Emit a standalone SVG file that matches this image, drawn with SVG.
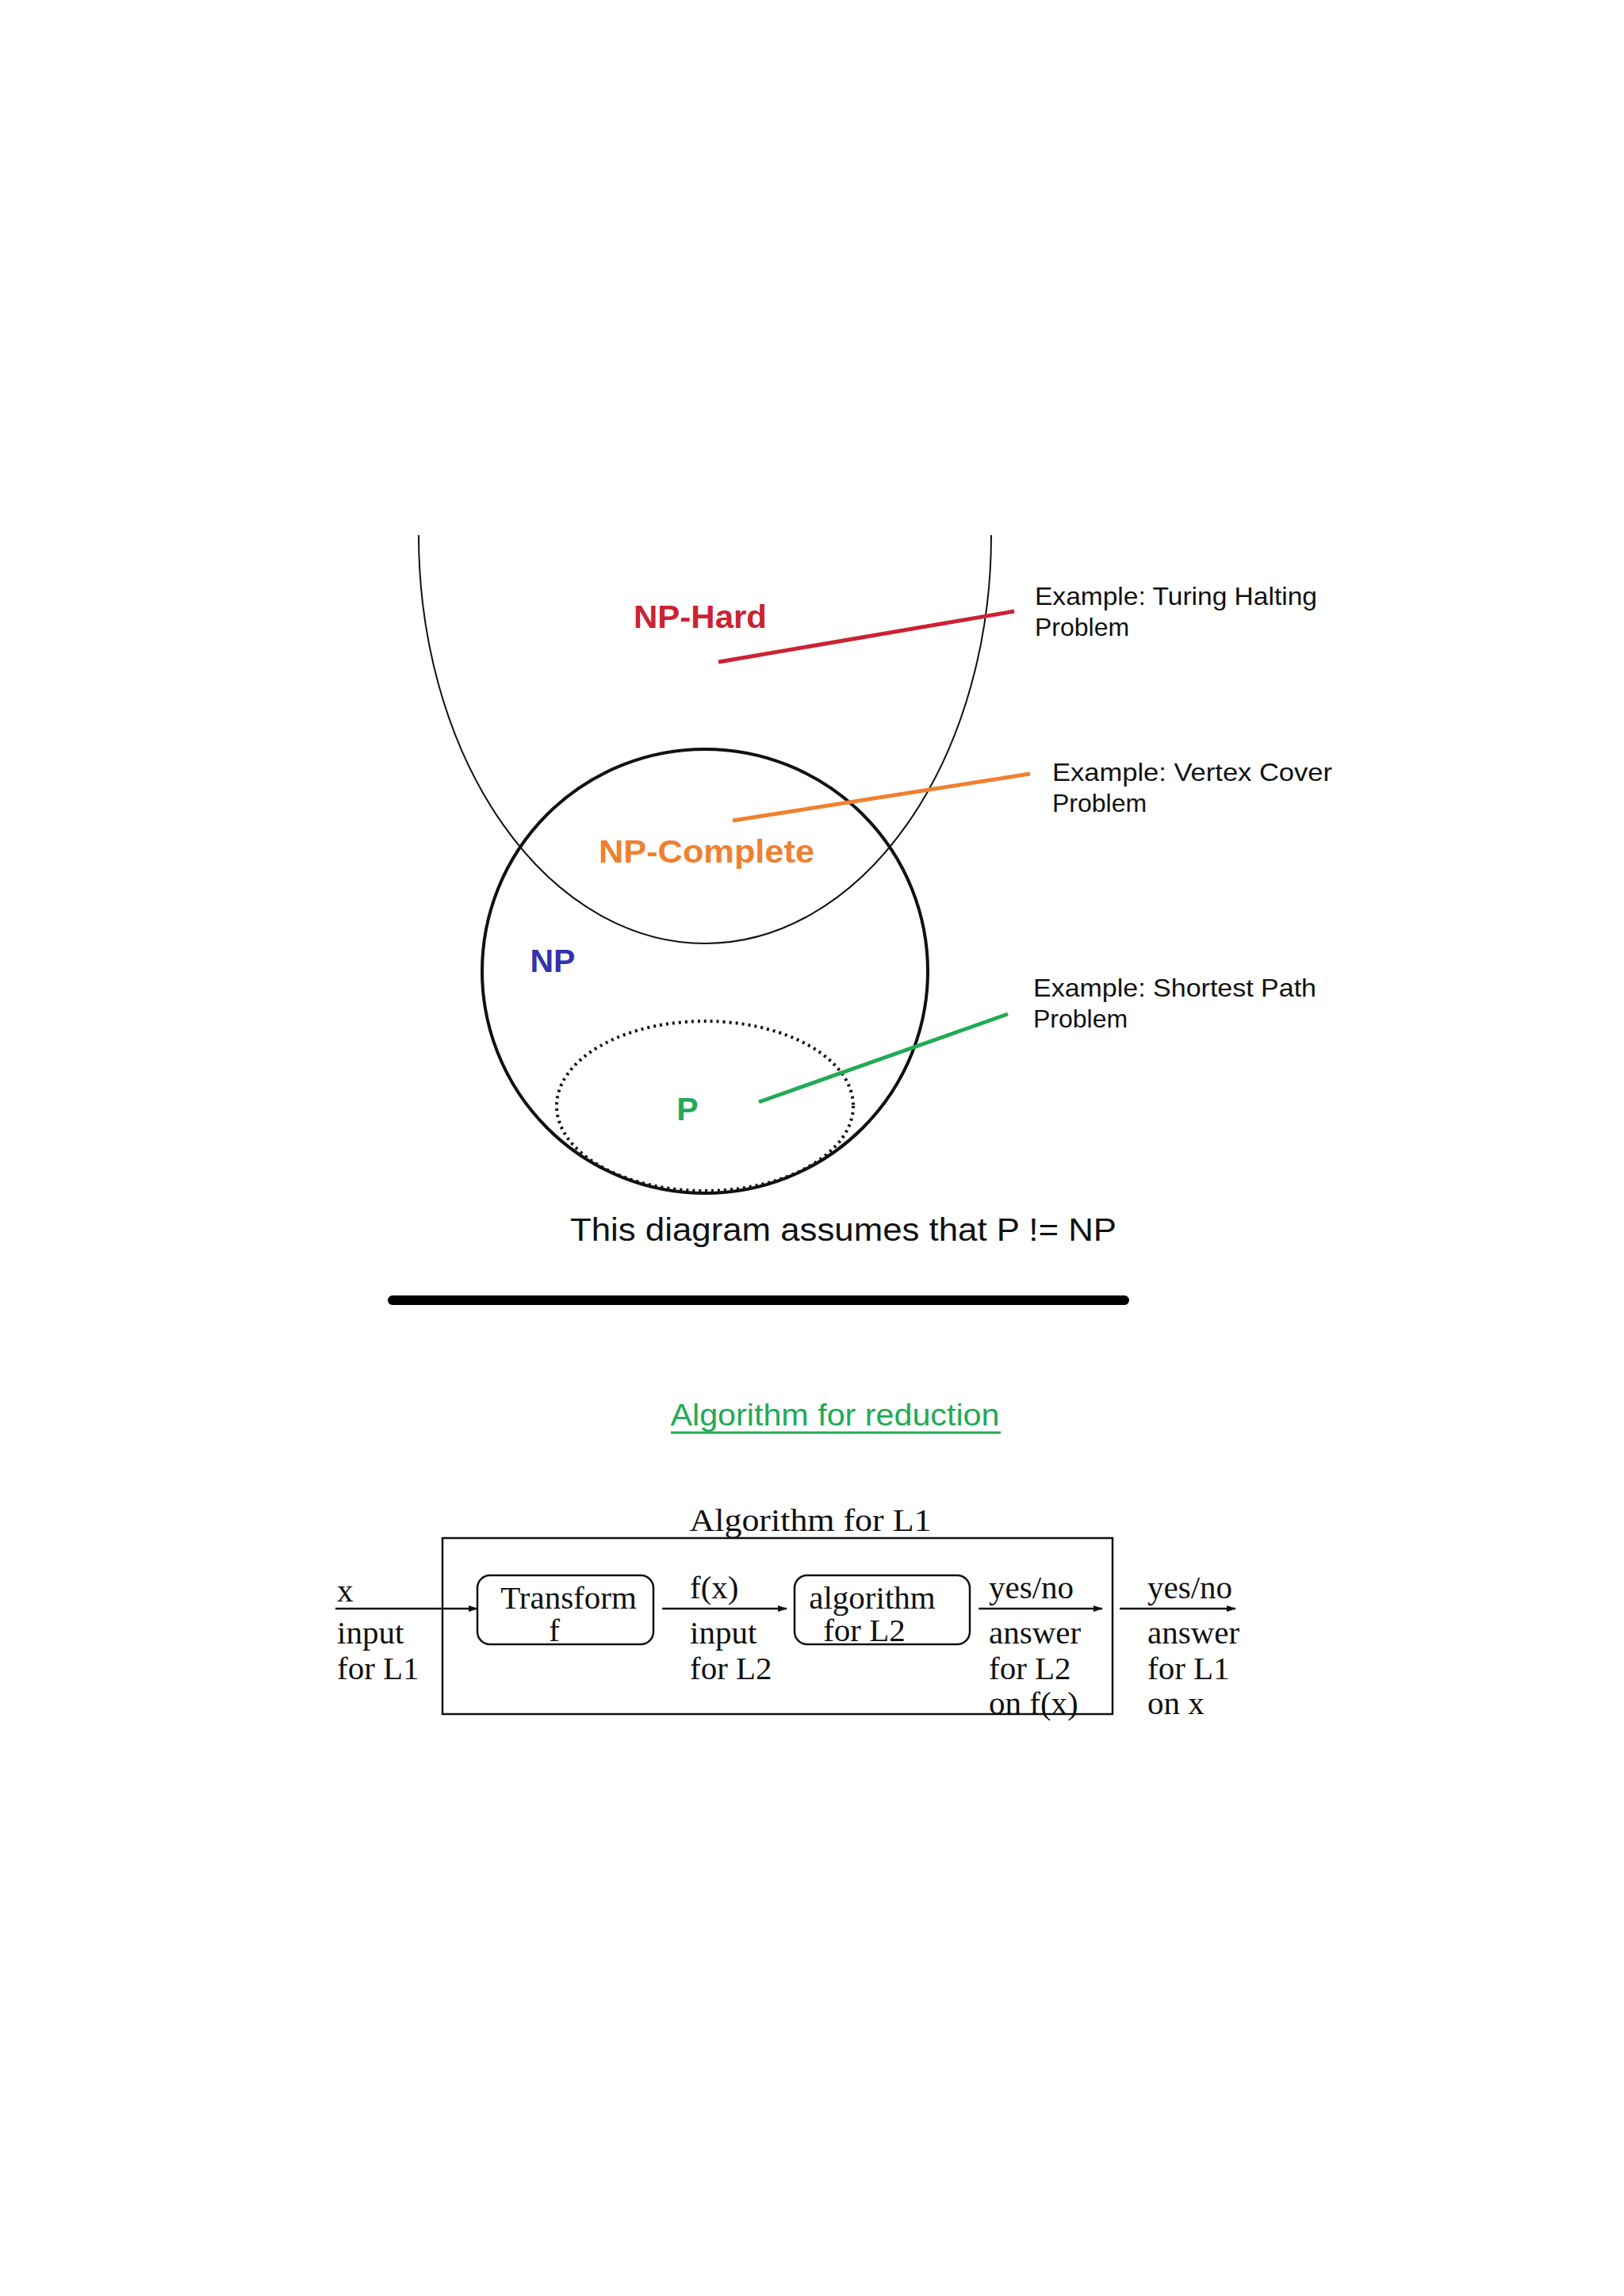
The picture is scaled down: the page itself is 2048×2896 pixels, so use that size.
<svg xmlns="http://www.w3.org/2000/svg" width="2048" height="2896" viewBox="0 0 2048 2896">
<style>
.s{font-family:"Liberation Sans",Arial,sans-serif}
.b{font-family:"Liberation Sans",Arial,sans-serif;font-weight:bold;font-size:41px;text-anchor:middle}
.ex{font-family:"Liberation Sans",Arial,sans-serif;font-size:32px;fill:#111}
.t{font-family:"Liberation Serif","Times New Roman",serif;font-size:41px;fill:#111}
.m{text-anchor:middle}
.ln{stroke:#111;stroke-width:2.5;fill:none}
</style>
<defs>
<marker id="ah" markerWidth="12" markerHeight="8" refX="11" refY="4" orient="auto" markerUnits="userSpaceOnUse"><path d="M0,0 L12,4 L0,8 z" fill="#111"/></marker>
<clipPath id="npc"><ellipse cx="889" cy="1225" rx="281" ry="280"/></clipPath>
</defs>
<rect width="2048" height="2896" fill="#fff"/>
<g id="np-hard"><path d="M528,675 A361,515 0 0 0 1250,675" fill="none" stroke="#111" stroke-width="2"/><text class="b" x="883" y="792" fill="#cc2233" textLength="168" lengthAdjust="spacingAndGlyphs">NP-Hard</text></g>
<g id="np"><ellipse cx="889" cy="1225" rx="281" ry="280" fill="none" stroke="#111" stroke-width="4"/><text class="b" x="697" y="1226" fill="#3333aa">NP</text></g>
<g id="np-complete"><text class="b" x="891" y="1088" fill="#f08030" textLength="272" lengthAdjust="spacingAndGlyphs">NP-Complete</text></g>
<g id="p"><ellipse cx="889" cy="1395" rx="187" ry="107" fill="none" stroke="#111" stroke-width="4" stroke-dasharray="3,5" clip-path="url(#npc)"/><text class="b" x="867" y="1413" fill="#22aa55">P</text></g>
<g id="connectors">
<line x1="906" y1="835" x2="1279" y2="771" stroke="#cc2233" stroke-width="5"/>
<line x1="924" y1="1035" x2="1299" y2="976" stroke="#f08030" stroke-width="5"/>
<line x1="957" y1="1390" x2="1271" y2="1279" stroke="#22aa55" stroke-width="5"/>
<line class="ln" x1="423" y1="2029" x2="602" y2="2029" marker-end="url(#ah)"/>
<line class="ln" x1="835" y1="2029" x2="992" y2="2029" marker-end="url(#ah)"/>
<line class="ln" x1="1234" y1="2029" x2="1390" y2="2029" marker-end="url(#ah)"/>
<line class="ln" x1="1412" y1="2029" x2="1558" y2="2029" marker-end="url(#ah)"/>
</g>
<g id="examples">
<text class="ex" x="1305" y="763" textLength="356" lengthAdjust="spacingAndGlyphs">Example: Turing Halting</text><text class="ex" x="1305" y="802">Problem</text>
<text class="ex" x="1327" y="985" textLength="353" lengthAdjust="spacingAndGlyphs">Example: Vertex Cover</text><text class="ex" x="1327" y="1024">Problem</text>
<text class="ex" x="1303" y="1257" textLength="357" lengthAdjust="spacingAndGlyphs">Example: Shortest Path</text><text class="ex" x="1303" y="1296">Problem</text>
</g>
<text class="s" x="719" y="1565" font-size="41" fill="#111" textLength="689" lengthAdjust="spacingAndGlyphs">This diagram assumes that P != NP</text>
<line x1="495" y1="1640" x2="1418" y2="1640" stroke="#000" stroke-width="12" stroke-linecap="round"/>
<g id="title"><text class="s m" x="1053" y="1798" font-size="38" fill="#22aa55" textLength="415" lengthAdjust="spacingAndGlyphs">Algorithm for reduction</text><line x1="846" y1="1807" x2="1262" y2="1807" stroke="#22aa55" stroke-width="3"/></g>
<g id="alg-l1"><rect x="558" y="1940" width="845" height="222" class="ln" stroke-width="2"/><text class="t m" x="1022" y="1931" textLength="305" lengthAdjust="spacingAndGlyphs">Algorithm for L1</text></g>
<g id="transform"><rect x="602" y="1987" width="222" height="87" rx="16" class="ln" stroke-width="2"/><text class="t m" x="717" y="2029">Transform</text><text class="t m" x="699" y="2070">f</text></g>
<g id="alg-l2"><rect x="1002" y="1987" width="221" height="87" rx="16" class="ln" stroke-width="2"/><text class="t m" x="1100" y="2029">algorithm</text><text class="t m" x="1090" y="2070">for L2</text></g>
<g id="labels">
<text class="t" x="425" y="2020">x</text><text class="t" x="425" y="2073">input</text><text class="t" x="425" y="2118">for L1</text>
<text class="t" x="870" y="2016">f(x)</text><text class="t" x="870" y="2073">input</text><text class="t" x="870" y="2118">for L2</text>
<text class="t" x="1247" y="2016">yes/no</text><text class="t" x="1247" y="2073">answer</text><text class="t" x="1247" y="2118">for L2</text><text class="t" x="1247" y="2162">on f(x)</text>
<text class="t" x="1447" y="2016">yes/no</text><text class="t" x="1447" y="2073">answer</text><text class="t" x="1447" y="2118">for L1</text><text class="t" x="1447" y="2162">on x</text>
</g>
</svg>
